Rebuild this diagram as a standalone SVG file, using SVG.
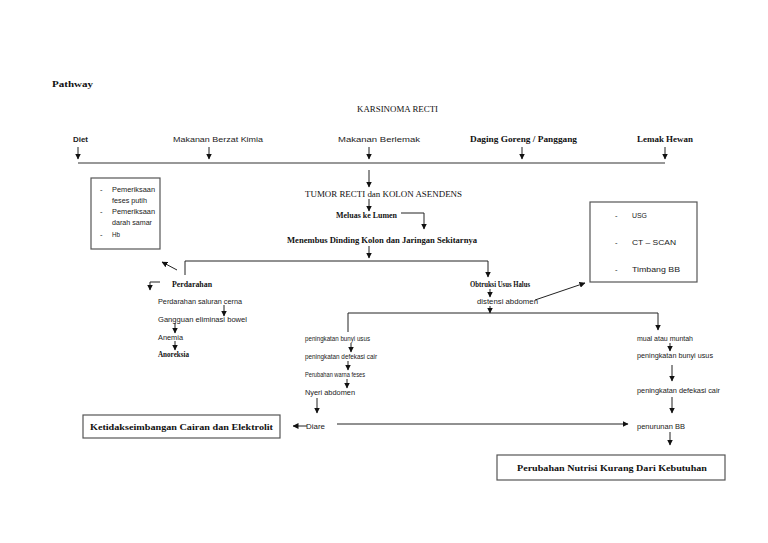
<svg xmlns="http://www.w3.org/2000/svg" width="768" height="543" viewBox="0 0 768 543">
<defs>
<marker id="ah" markerWidth="6" markerHeight="6" refX="5.5" refY="3" orient="auto" markerUnits="userSpaceOnUse">
<path d="M0,0 L6,3 L0,6 z" fill="#111"/>
</marker>
<style>
.t{font-family:"Liberation Sans",Arial,sans-serif;font-size:7.5px;fill:#222}
.s{font-family:"Liberation Serif","Times New Roman",serif;font-size:8.5px;fill:#111}
.b{font-family:"Liberation Serif","Times New Roman",serif;font-size:8.5px;font-weight:bold;fill:#111}
.c{fill:none;stroke:#333;stroke-width:1.1}
.a{fill:none;stroke:#222;stroke-width:1;marker-end:url(#ah)}
.box{fill:#fff;stroke:#555;stroke-width:1.2}
</style>
</defs>
<rect width="768" height="543" fill="#fff"/>
<text class="b" x="52" y="87" textLength="41" lengthAdjust="spacingAndGlyphs">Pathway</text>
<text class="s" x="357" y="112" font-size="12" textLength="81" lengthAdjust="spacingAndGlyphs">KARSINOMA RECTI</text>

<g id="causes">
<text class="t" x="73" y="142" textLength="15" lengthAdjust="spacingAndGlyphs" font-weight="bold">Diet</text>
<text class="t" x="173" y="142" textLength="90" lengthAdjust="spacingAndGlyphs">Makanan Berzat Kimia</text>
<text class="t" x="338" y="142" textLength="82" lengthAdjust="spacingAndGlyphs">Makanan Berlemak</text>
<text class="b" x="470" y="142" textLength="107" lengthAdjust="spacingAndGlyphs">Daging Goreng / Panggang</text>
<text class="b" x="637" y="142" textLength="56" lengthAdjust="spacingAndGlyphs">Lemak Hewan</text>
</g>

<g id="box-lab">
<rect class="box" x="91" y="178" width="69" height="71"/>
<text class="t" x="100" y="192" font-size="7">-</text>
<text class="t" x="112" y="192" font-size="7" textLength="43" lengthAdjust="spacingAndGlyphs">Pemeriksaan</text>
<text class="t" x="112" y="203" font-size="7" textLength="35" lengthAdjust="spacingAndGlyphs">feses putih</text>
<text class="t" x="100" y="214" font-size="7">-</text>
<text class="t" x="112" y="214" font-size="7" textLength="43" lengthAdjust="spacingAndGlyphs">Pemeriksaan</text>
<text class="t" x="112" y="225" font-size="7" textLength="40" lengthAdjust="spacingAndGlyphs">darah samar</text>
<text class="t" x="100" y="237" font-size="7">-</text>
<text class="t" x="112" y="237" font-size="7" textLength="8" lengthAdjust="spacingAndGlyphs">Hb</text>
</g>

<g id="box-diag">
<rect class="box" x="590" y="202" width="107" height="80"/>
<text class="t" x="615" y="218">-</text>
<text class="t" x="632" y="218" textLength="15" lengthAdjust="spacingAndGlyphs">USG</text>
<text class="t" x="615" y="245">-</text>
<text class="t" x="632" y="245" textLength="44" lengthAdjust="spacingAndGlyphs">CT – SCAN</text>
<text class="t" x="615" y="272">-</text>
<text class="t" x="632" y="272" textLength="48" lengthAdjust="spacingAndGlyphs">Timbang BB</text>
</g>

<g id="tumor">
<text class="s" x="305" y="197" textLength="157" lengthAdjust="spacingAndGlyphs">TUMOR RECTI dan KOLON ASENDENS</text>
<text class="b" x="336" y="218" textLength="61" lengthAdjust="spacingAndGlyphs">Meluas ke Lumen</text>
<text class="b" x="287" y="243" textLength="190" lengthAdjust="spacingAndGlyphs">Menembus Dinding Kolon dan Jaringan Sekitarnya</text>
</g>

<g id="perdarahan">
<text class="b" x="172" y="287" textLength="40" lengthAdjust="spacingAndGlyphs">Perdarahan</text>
<text class="t" x="158" y="304" textLength="84" lengthAdjust="spacingAndGlyphs">Perdarahan saluran cerna</text>
<text class="t" x="158" y="322" textLength="89" lengthAdjust="spacingAndGlyphs">Gangguan eliminasi bowel</text>
<text class="t" x="158" y="340" textLength="25" lengthAdjust="spacingAndGlyphs">Anemia</text>
<text class="b" x="158" y="357" textLength="31" lengthAdjust="spacingAndGlyphs">Anoreksia</text>
</g>

<g id="obstruksi">
<text class="b" x="470" y="287" textLength="60" lengthAdjust="spacingAndGlyphs">Obtruksi Usus Halus</text>
<text class="t" x="477" y="304" textLength="61" lengthAdjust="spacingAndGlyphs">distensi abdomen</text>
</g>

<g id="left-chain">
<text class="t" x="305" y="341" textLength="65" lengthAdjust="spacingAndGlyphs">peningkatan bunyi usus</text>
<text class="t" x="305" y="359" textLength="72" lengthAdjust="spacingAndGlyphs">peningkatan defekasi cair</text>
<text class="t" x="305" y="377" textLength="60" lengthAdjust="spacingAndGlyphs">Perubahan warna feses</text>
<text class="t" x="305" y="395" textLength="50" lengthAdjust="spacingAndGlyphs">Nyeri abdomen</text>
<text class="t" x="306" y="429" textLength="19" lengthAdjust="spacingAndGlyphs">Diare</text>
</g>

<g id="right-chain">
<text class="t" x="637" y="341" textLength="56" lengthAdjust="spacingAndGlyphs">mual atau muntah</text>
<text class="t" x="637" y="358" textLength="76" lengthAdjust="spacingAndGlyphs">peningkatan bunyi usus</text>
<text class="t" x="637" y="393" textLength="83" lengthAdjust="spacingAndGlyphs">peningkatan defekasi cair</text>
<text class="t" x="637" y="429" textLength="48" lengthAdjust="spacingAndGlyphs">penurunan BB</text>
</g>

<g id="dx-cairan">
<rect class="box" x="83" y="415" width="197" height="23"/>
<text class="b" x="90" y="430" textLength="183" lengthAdjust="spacingAndGlyphs">Ketidakseimbangan Cairan dan Elektrolit</text>
</g>

<g id="dx-nutrisi">
<rect class="box" x="497" y="455" width="228" height="25"/>
<text class="b" x="517" y="471" textLength="190" lengthAdjust="spacingAndGlyphs">Perubahan Nutrisi Kurang Dari Kebutuhan</text>
</g>

<g id="connectors">
<line class="a" x1="78" y1="147" x2="78" y2="159"/>
<line class="a" x1="209" y1="147" x2="209" y2="159"/>
<line class="a" x1="369" y1="147" x2="369" y2="159"/>
<line class="a" x1="522" y1="147" x2="522" y2="159"/>
<line class="a" x1="665" y1="147" x2="665" y2="159"/>
<line class="c" x1="78" y1="163" x2="665" y2="163"/>
<line class="a" x1="369" y1="170" x2="369" y2="187"/>
<line class="a" x1="369" y1="199" x2="369" y2="211"/>
<polyline class="a" points="401,213 424,213 424,229"/>
<line class="a" x1="369" y1="246" x2="369" y2="258"/>
<polyline class="a" points="185,275 185,261 488,261 488,277"/>
<line class="a" x1="177" y1="270" x2="162" y2="262"/>
<polyline class="a" points="160,282 150,282 150,290"/>
<line class="a" x1="224" y1="305" x2="224" y2="316"/>
<line class="a" x1="175" y1="323" x2="175" y2="333"/>
<line class="a" x1="175" y1="341" x2="175" y2="350"/>
<line class="a" x1="490" y1="289" x2="490" y2="297"/>
<line class="a" x1="535" y1="300" x2="585" y2="283"/>
<polyline class="a" points="348,332 348,313 658,313 658,330"/>
<line class="a" x1="490" y1="306" x2="490" y2="313"/>
<line class="a" x1="351" y1="343" x2="351" y2="352"/>
<line class="a" x1="348" y1="361" x2="348" y2="370"/>
<line class="a" x1="347" y1="379" x2="347" y2="388"/>
<line class="a" x1="317" y1="398" x2="317" y2="413"/>
<line class="a" x1="307" y1="426" x2="293" y2="426"/>
<line class="a" x1="337" y1="424" x2="628" y2="424"/>
<line class="a" x1="670" y1="343" x2="670" y2="351"/>
<line class="a" x1="672" y1="365" x2="672" y2="381"/>
<line class="a" x1="672" y1="397" x2="672" y2="413"/>
<line class="a" x1="670" y1="432" x2="670" y2="445"/>
</g>
</svg>
